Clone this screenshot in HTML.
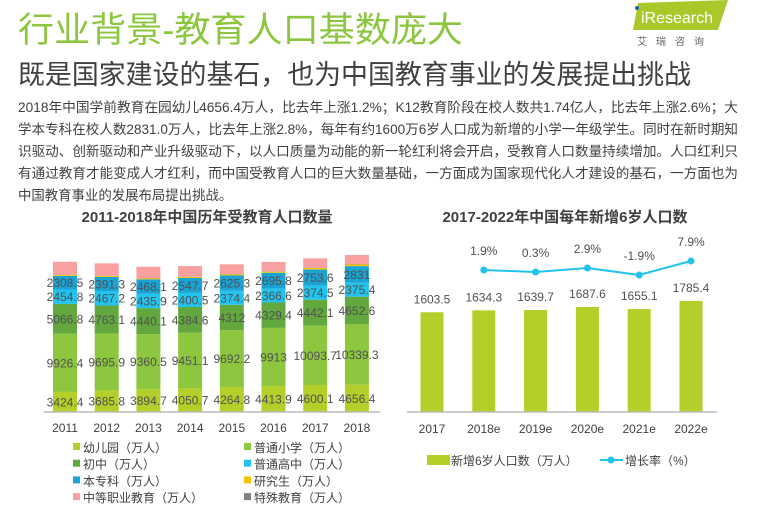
<!DOCTYPE html>
<html><head><meta charset="utf-8"><style>
body{margin:0;width:760px;height:508px;background:#fff;overflow:hidden;font-family:"Liberation Sans","Noto Sans CJK SC",sans-serif}
</style></head><body>
<svg id="s" width="760" height="508" xmlns="http://www.w3.org/2000/svg" font-family="Liberation Sans, Noto Sans CJK SC, sans-serif">
<text x="18" y="42" font-size="35" fill="#8cc63f" textLength="445" lengthAdjust="spacingAndGlyphs">行业背景-教育人口基数庞大</text>
<text x="18" y="84" font-size="27" fill="#404040" textLength="673" lengthAdjust="spacingAndGlyphs">既是国家建设的基石，也为中国教育事业的发展提出挑战</text>
<g font-size="13.4" fill="#404040">
<text x="18" y="112" textLength="720" lengthAdjust="spacingAndGlyphs">2018年中国学前教育在园幼儿4656.4万人，比去年上涨1.2%；K12教育阶段在校人数共1.74亿人，比去年上涨2.6%；大</text>
<text x="18" y="134" textLength="720" lengthAdjust="spacingAndGlyphs">学本专科在校人数2831.0万人，比去年上涨2.8%，每年有约1600万6岁人口成为新增的小学一年级学生。同时在新时期知</text>
<text x="18" y="156" textLength="720" lengthAdjust="spacingAndGlyphs">识驱动、创新驱动和产业升级驱动下，以人口质量为动能的新一轮红利将会开启，受教育人口数量持续增加。人口红利只</text>
<text x="18" y="178" textLength="720" lengthAdjust="spacingAndGlyphs">有通过教育才能变成人才红利，而中国受教育人口的巨大数量基础，一方面成为国家现代化人才建设的基石，一方面也为</text>
<text x="18" y="200">中国教育事业的发展布局提出挑战。</text>
</g>
<polygon points="638,3 728,0 718,30 633,30" fill="#a9c92b"/>
<text x="641" y="23" font-size="16" fill="#fff">iResearch</text>
<circle cx="637" cy="8" r="2" fill="#1a5fb4"/>
<text x="637" y="45" font-size="10" fill="#666" letter-spacing="9">艾瑞咨询</text>
<text x="207" y="222" font-size="15" font-weight="bold" fill="#404040" text-anchor="middle">2011-2018年中国历年受教育人口数量</text>
<text x="565" y="222" font-size="15" font-weight="bold" fill="#404040" text-anchor="middle">2017-2022年中国每年新增6岁人口数</text>
<g id="L"></g><g id="R"></g>
</svg>
<script>
const ns="http://www.w3.org/2000/svg";
function el(p,t,a,txt){const e=document.createElementNS(ns,t);for(const k in a)e.setAttribute(k,a[k]);if(txt!=null)e.textContent=txt;p.appendChild(e);return e;}
const L=document.getElementById('L'),R=document.getElementById('R');
const yrs=[2011,2012,2013,2014,2015,2016,2017,2018];
const d=[[3424.4,3685.8,3894.7,4050.7,4264.8,4413.9,4600.1,4656.4],
[9926.4,9695.9,9360.5,9451.1,9692.2,9913,10093.7,10339.3],
[5066.8,4763.1,4440.1,4384.6,4312,4329.4,4442.1,4652.6],
[2454.8,2467.2,2435.9,2400.5,2374.4,2366.6,2374.5,2375.4],
[2308.5,2391.3,2468.1,2547.7,2625.3,2695.8,2753.6,2831],
[165,172,179,185,191,198,264,273],
[40,38,37,39,44,49,58,67],
[2205,2114,1923,1803,1657,1599,1592,1555]];
const cols=['#b3cf2a','#8dc63f','#62a83f','#22c4ee','#1aa3d4','#f5c400','#808080','#f9a0a0'];
const sc=0.00587,base=412;
yrs.forEach((y,i)=>{const cx=65+i*41.7;let cy=base;
 for(let s=0;s<8;s++){const h=d[s][i]*sc;cy-=h;el(L,'rect',{x:cx-12,y:cy,width:24,height:h,fill:cols[s]});
  if(s<5)el(L,'text',{x:cx,y:cy+h/2+4.5,'font-size':12,fill:'#505050','text-anchor':'middle'},String(d[s][i]));}
 el(L,'text',{x:cx,y:432,'font-size':12,fill:'#404040','text-anchor':'middle'},String(y));
});
el(L,'line',{x1:44,x2:380,y1:412,y2:412,stroke:'#bbb','stroke-width':1.5});
const lg=[['幼儿园（万人）',0],['普通小学（万人）',1],['初中（万人）',2],['普通高中（万人）',3],['本专科（万人）',4],['研究生（万人）',5],['中等职业教育（万人）',7],['特殊教育（万人）',6]];
lg.forEach((g,i)=>{const x=i%2?244:73,y=448+Math.floor(i/2)*16.7;
 el(L,'rect',{x:x,y:y-5,width:7,height:7,fill:cols[g[1]]});
 el(L,'text',{x:x+10,y:y+4,'font-size':12,fill:'#404040'},g[0]);});
const rv=[1603.5,1634.3,1639.7,1687.6,1655.1,1785.4],rl=['2017','2018e','2019e','2020e','2021e','2022e'];
const rs=0.0622;const pts=[];const ly=[270,272,268,275,261],lt=['1.9%','0.3%','2.9%','-1.9%','7.9%'];
rv.forEach((v,i)=>{const cx=432+i*51.8,h=v*rs;
 el(R,'rect',{x:cx-11.5,y:base-h,width:23,height:h,fill:'#b3cf2a'});
 el(R,'text',{x:cx,y:base-h-9,'font-size':12,fill:'#505050','text-anchor':'middle'},String(v));
 el(R,'text',{x:cx,y:433,'font-size':12,fill:'#404040','text-anchor':'middle'},rl[i]);
 if(i>0){pts.push(cx+','+ly[i-1]);el(R,'text',{x:cx,y:ly[i-1]-15,'font-size':12,fill:'#505050','text-anchor':'middle'},lt[i-1]);}
});
el(R,'line',{x1:407,x2:717,y1:412,y2:412,stroke:'#bbb','stroke-width':1.5});
el(R,'polyline',{points:pts.join(' '),fill:'none',stroke:'#22c4ee','stroke-width':2});
pts.forEach(p=>{const [x,y]=p.split(',');el(R,'circle',{cx:x,cy:y,r:3.5,fill:'#22c4ee'});});
el(R,'rect',{x:427,y:455,width:23,height:10,fill:'#b3cf2a'});
el(R,'text',{x:451,y:465,'font-size':12,fill:'#404040'},'新增6岁人口数（万人）');
el(R,'line',{x1:600,x2:623,y1:460,y2:460,stroke:'#22c4ee','stroke-width':2});
el(R,'circle',{cx:611,cy:460,r:3.5,fill:'#22c4ee'});
el(R,'text',{x:625,y:465,'font-size':12,fill:'#404040'},'增长率（%）');
</script>
</body></html>
